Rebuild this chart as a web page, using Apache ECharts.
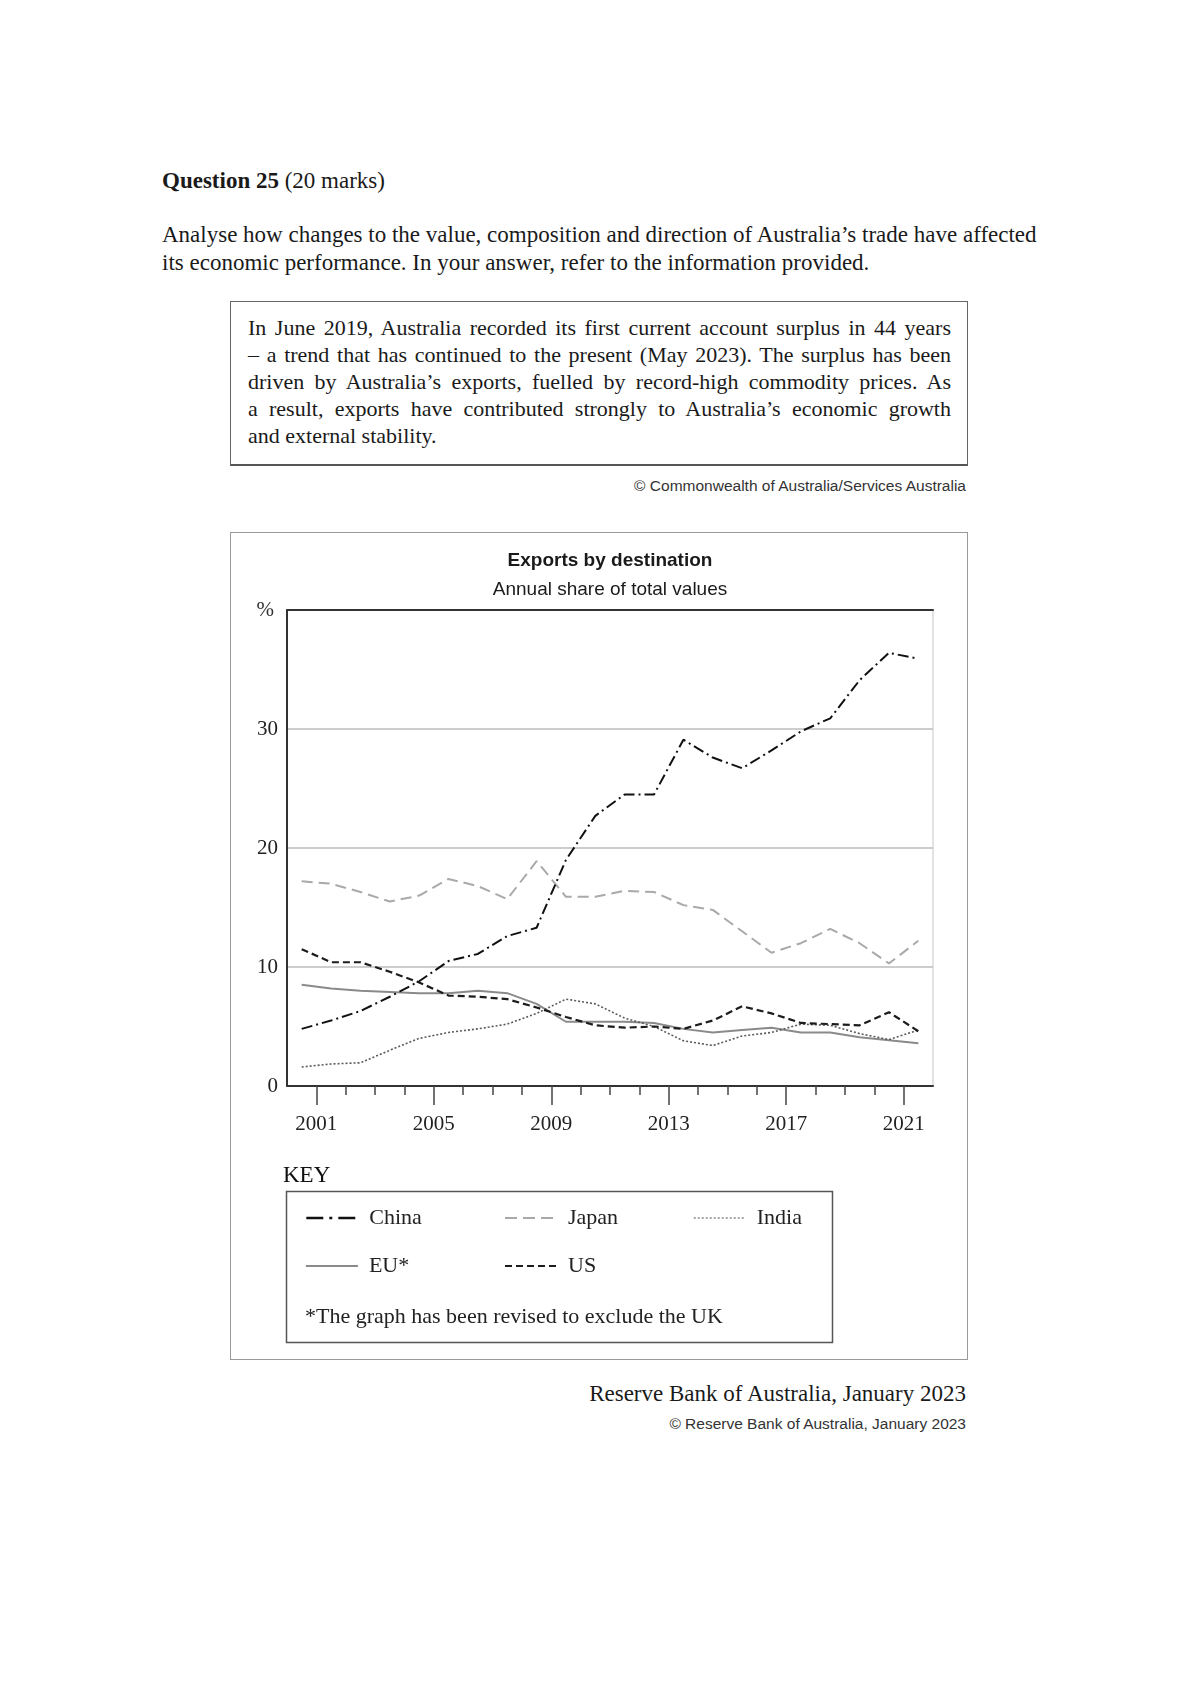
<!DOCTYPE html>
<html>
<head>
<meta charset="utf-8">
<title>Exports by destination</title>
<script src="https://cdn.jsdelivr.net/npm/echarts@6.0.0/dist/echarts.min.js"></script>
<style>
  body { margin: 0; background: #fff; }
  #page { position: relative; width: 1200px; height: 1696px; font-family: 'Liberation Serif', 'Times New Roman', serif; color: #1a1a1a; }
  .abs { position: absolute; white-space: nowrap; }
  .sans { font-family: 'Liberation Sans', Arial, sans-serif; }
  #box { position: absolute; left: 230px; top: 301px; width: 738px; height: 165px; box-sizing: border-box; border: 1px solid #666; border-bottom: 2px solid #555; }
  #boxText { position: absolute; left: 248px; top: 314px; width: 703px; font-size: 22px; line-height: 27px; }
  #boxText .jl { text-align: justify; text-align-last: justify; }
  #chart { position: absolute; left: 230px; top: 532px; width: 738px; height: 828px; box-sizing: border-box; border: 1px solid #999; }
</style>
</head>
<body>
<div id="page">
  <div class="abs" style="left:162px;top:167px;font-size:23px;line-height:28px;"><b>Question 25</b> (20 marks)</div>
  <div class="abs" style="left:162px;top:221px;font-size:23px;line-height:28px;">
    Analyse how changes to the value, composition and direction of Australia’s trade have affected<br>
    its economic performance. In your answer, refer to the information provided.
  </div>

  <div id="box"></div>
  <div id="boxText">
    <div class="jl">In June 2019, Australia recorded its first current account surplus in 44 years</div>
    <div class="jl">– a trend that has continued to the present (May 2023). The surplus has been</div>
    <div class="jl">driven by Australia’s exports, fuelled by record-high commodity prices. As</div>
    <div class="jl">a result, exports have contributed strongly to Australia’s economic growth</div>
    <div>and external stability.</div>
  </div>
  <div class="abs sans" style="right:234px;top:476px;font-size:15.5px;line-height:20px;color:#333;">© Commonwealth of Australia/Services Australia</div>

  <div id="chart"></div>

  <div class="abs" style="right:234px;top:1380px;font-size:23px;line-height:28px;">Reserve Bank of Australia, January 2023</div>
  <div class="abs sans" style="right:234px;top:1414px;font-size:15.5px;line-height:20px;color:#333;">© Reserve Bank of Australia, January 2023</div>
</div>

<script>
// annual share of total export values, %
const years = [2000, 2001, 2002, 2003, 2004, 2005, 2006, 2007, 2008, 2009, 2010,
  2011, 2012, 2013, 2014, 2015, 2016, 2017, 2018, 2019, 2020, 2021]
const china = [4.8, 5.5, 6.3, 7.5, 8.8, 10.5, 11.1, 12.6, 13.3, 19.0, 22.7,
  24.5, 24.5, 29.1, 27.6, 26.7, 28.2, 29.8, 30.9, 34.1, 36.4, 35.9]
const japan = [17.2, 17.0, 16.3, 15.5, 16.0, 17.4, 16.8, 15.7, 18.9, 15.9, 15.9,
  16.4, 16.3, 15.2, 14.8, 13.0, 11.2, 12.0, 13.2, 12.0, 10.3, 12.2]
const india = [1.6, 1.85, 1.95, 3.0, 4.0, 4.5, 4.8, 5.2, 6.1, 7.3, 6.9,
  5.7, 5.0, 3.8, 3.4, 4.2, 4.5, 5.2, 5.1, 4.4, 3.9, 4.7]
const eu = [8.5, 8.2, 8.0, 7.9, 7.8, 7.8, 8.0, 7.8, 6.9, 5.4, 5.4,
  5.4, 5.3, 4.8, 4.5, 4.7, 4.9, 4.5, 4.5, 4.1, 3.85, 3.6]
const us = [11.5, 10.4, 10.4, 9.6, 8.7, 7.6, 7.5, 7.3, 6.6, 5.8, 5.1,
  4.9, 5.0, 4.8, 5.5, 6.7, 6.1, 5.3, 5.2, 5.1, 6.2, 4.6]

// tick marks every year, labels every four years
const tickYears = [2001, 2002, 2003, 2004, 2005, 2006, 2007, 2008, 2009, 2010, 2011,
  2012, 2013, 2014, 2015, 2016, 2017, 2018, 2019, 2020, 2021]
const labelYears = [2001, 2005, 2009, 2013, 2017, 2021]
const yTicks = [0, 10, 20, 30]

const serif = "'Liberation Serif', 'Times New Roman', serif"
const sans = "'Liberation Sans', Arial, sans-serif"

// each yearly value sits in the middle of its year
const pairs = vals => years.map((y, i) => [y + 0.5, vals[i]])

const line = (name, vals, color, width, type) => ({
  name,
  type: 'line',
  data: pairs(vals),
  symbol: 'none',
  silent: true,
  itemStyle: { color },
  lineStyle: { color, width, type, cap: 'butt' }
})

// one legend per key entry so the columns line up like the printed key
const legendAt = (name, left, top, lineStyle) => ({
  data: [name],
  left,
  top,
  padding: 0,
  itemWidth: 52,
  itemHeight: 22,
  selectedMode: false,
  itemStyle: { opacity: 0 },
  lineStyle: lineStyle || {},
  textStyle: { fontFamily: serif, fontSize: 22, color: '#222', padding: [0, 0, 0, 6] }
})

const tickStyle = { color: '#444', width: 1.5 }

const chart = echarts.init(document.getElementById('chart'))
chart.setOption({
  animation: false,
  title: {
    text: 'Exports by destination',
    subtext: 'Annual share of total values',
    left: 374,
    textAlign: 'center',
    top: 13,
    itemGap: 10,
    textStyle: { fontFamily: sans, fontSize: 19, fontWeight: 'bold', color: '#1a1a1a' },
    subtextStyle: { fontFamily: sans, fontSize: 19, color: '#1a1a1a' }
  },
  grid: {
    left: 56,
    top: 77,
    right: 34,
    bottom: 273,
    show: true,
    borderColor: '#c8c8c8',
    borderWidth: 1
  },
  legend: [
    legendAt('China', 74, 674, { width: 2.6, type: [17, 6, 3, 6] }),
    legendAt('Japan', 273, 674, { width: 2, type: [12, 6] }),
    legendAt('India', 462, 674, { color: '#888', width: 1.5, type: [2, 2] }),
    legendAt('EU*', 74, 722, { width: 1.8 }),
    legendAt('US', 273, 722, { width: 2, type: [7, 4] })
  ],
  xAxis: [{
    type: 'value',
    min: 2000,
    max: 2022,
    position: 'bottom',
    axisLine: { show: true, onZero: false, lineStyle: { color: '#333', width: 2 } },
    axisTick: { show: true, customValues: tickYears, length: 9, lineStyle: tickStyle },
    axisLabel: {
      customValues: labelYears,
      margin: 28,
      fontFamily: serif,
      fontSize: 21,
      color: '#222',
      formatter: v => String(v)
    },
    splitLine: { show: false }
  }, {
    // longer ticks under the labelled years
    type: 'value',
    min: 2000,
    max: 2022,
    position: 'bottom',
    axisLine: { show: false },
    axisTick: { show: true, customValues: labelYears, length: 19, lineStyle: tickStyle },
    axisLabel: { show: false },
    splitLine: { show: false }
  }, {
    type: 'value',
    min: 2000,
    max: 2022,
    position: 'top',
    axisLine: { show: true, lineStyle: { color: '#333', width: 2 } },
    axisTick: { show: false },
    axisLabel: { show: false },
    splitLine: { show: false }
  }],
  yAxis: {
    type: 'value',
    min: 0,
    max: 40,
    interval: 10,
    name: '%',
    nameLocation: 'end',
    nameGap: 0,
    nameTextStyle: {
      fontFamily: serif,
      fontSize: 21,
      color: '#333',
      align: 'right',
      verticalAlign: 'middle',
      padding: [0, 13, 0, 0]
    },
    axisLine: { show: true, lineStyle: { color: '#333', width: 2 } },
    axisTick: { show: false },
    axisLabel: {
      customValues: yTicks,
      margin: 9,
      fontFamily: serif,
      fontSize: 21,
      color: '#222',
      formatter: v => String(v)
    },
    splitLine: {
      show: true,
      showMinLine: false,
      showMaxLine: false,
      lineStyle: { color: '#bdbdbd', width: 1.5 }
    }
  },
  graphic: [
    { type: 'text', x: 52, y: 643, style: { text: 'KEY', font: `23px ${serif}`, fill: '#111', verticalAlign: 'middle' } },
    { type: 'rect', shape: { x: 55.5, y: 658.5, width: 546, height: 151 }, style: { fill: 'none', stroke: '#555', lineWidth: 1.5 } },
    { type: 'text', x: 74, y: 784, style: { text: '*The graph has been revised to exclude the UK', font: `22px ${serif}`, fill: '#222', verticalAlign: 'middle' } }
  ],
  series: [
    line('Japan', japan, '#a9a9a9', 2, [11, 6]),
    line('EU*', eu, '#8a8a8a', 2, 'solid'),
    line('India', india, '#5a5a5a', 1.6, [2, 2]),
    line('US', us, '#1c1c1c', 2.2, [7, 4]),
    line('China', china, '#111', 2, [11, 4, 2, 4])
  ]
})
</script>
</body>
</html>
